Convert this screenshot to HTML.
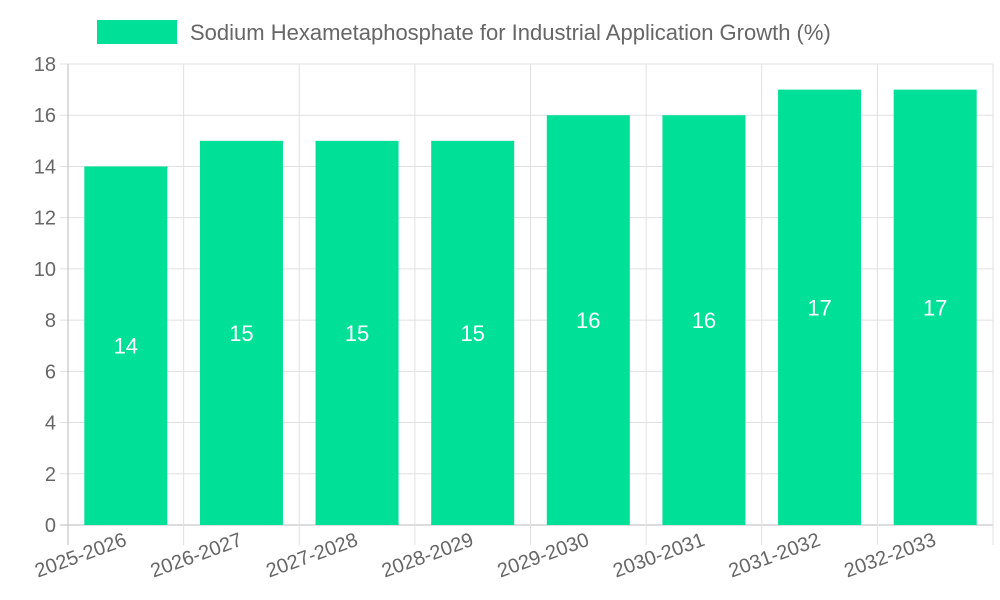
<!DOCTYPE html>
<html><head><meta charset="utf-8"><style>body{margin:0;background:#fff}svg{display:block;font-family:"Liberation Sans",sans-serif}</style></head>
<body>
<svg id="c" width="1000" height="600">
<rect x="97" y="20" width="80" height="24" fill="#00e096"/>
<text x="190" y="40" font-size="22" fill="#666">Sodium Hexametaphosphate for Industrial Application Growth (%)</text>
<g id="grid"></g><g id="bars"></g><g id="labels"></g>
</svg>
<script>
const categories=["2025-2026","2026-2027","2027-2028","2028-2029","2029-2030","2030-2031","2031-2032","2032-2033"];
const values=[14,15,15,15,16,16,17,17];
const yTicks=[0,2,4,6,8,10,12,14,16,18];
const L=68,R=993,T=64,B=525,yMax=18;
const ns="http://www.w3.org/2000/svg";
const bw=(R-L)/categories.length;
const y=v=>B-(B-T)*v/yMax;
const x=i=>L+bw*i;
function mk(t,a,p){const e=document.createElementNS(ns,t);for(const k in a)e.setAttribute(k,a[k]);p.appendChild(e);return e;}
const g=document.getElementById('grid'),bg=document.getElementById('bars'),lg=document.getElementById('labels');
yTicks.forEach(v=>{
 const ln=mk('line',{x1:L-8,x2:R,y1:y(v),y2:y(v),stroke:v===0?'#bbb':'#e0e0e0','stroke-width':1},g);
 
 
 const t=mk('text',{x:L-12,y:y(v)+7,'text-anchor':'end','font-size':20,fill:'#666'},g);
 t.textContent=v;
 
 
});
for(let i=0;i<=categories.length;i++){
 const ln=mk('line',{x1:x(i),x2:x(i),y1:T,y2:B+20,stroke:i===0?'#bbb':'#e0e0e0','stroke-width':1},g);
 
 
}
categories.forEach((c,i)=>{
 const cx=x(i)+bw/2,w=83;
 const r=mk('rect',{x:cx-w/2,y:y(values[i]),width:w,height:B-y(values[i]),fill:'#00e096'},bg);
 
 
 const vt=mk('text',{x:cx,y:(y(values[i])+B)/2+8,'text-anchor':'middle','font-size':22,fill:'#fff'},lg);
 vt.textContent=values[i];
 
 
 const t=mk('text',{x:cx+2,y:545,'text-anchor':'end','font-size':20,fill:'#666',transform:`rotate(-20 ${cx+2} 545)`},lg);
 t.textContent=c;
 
 
});
</script>
</body></html>
